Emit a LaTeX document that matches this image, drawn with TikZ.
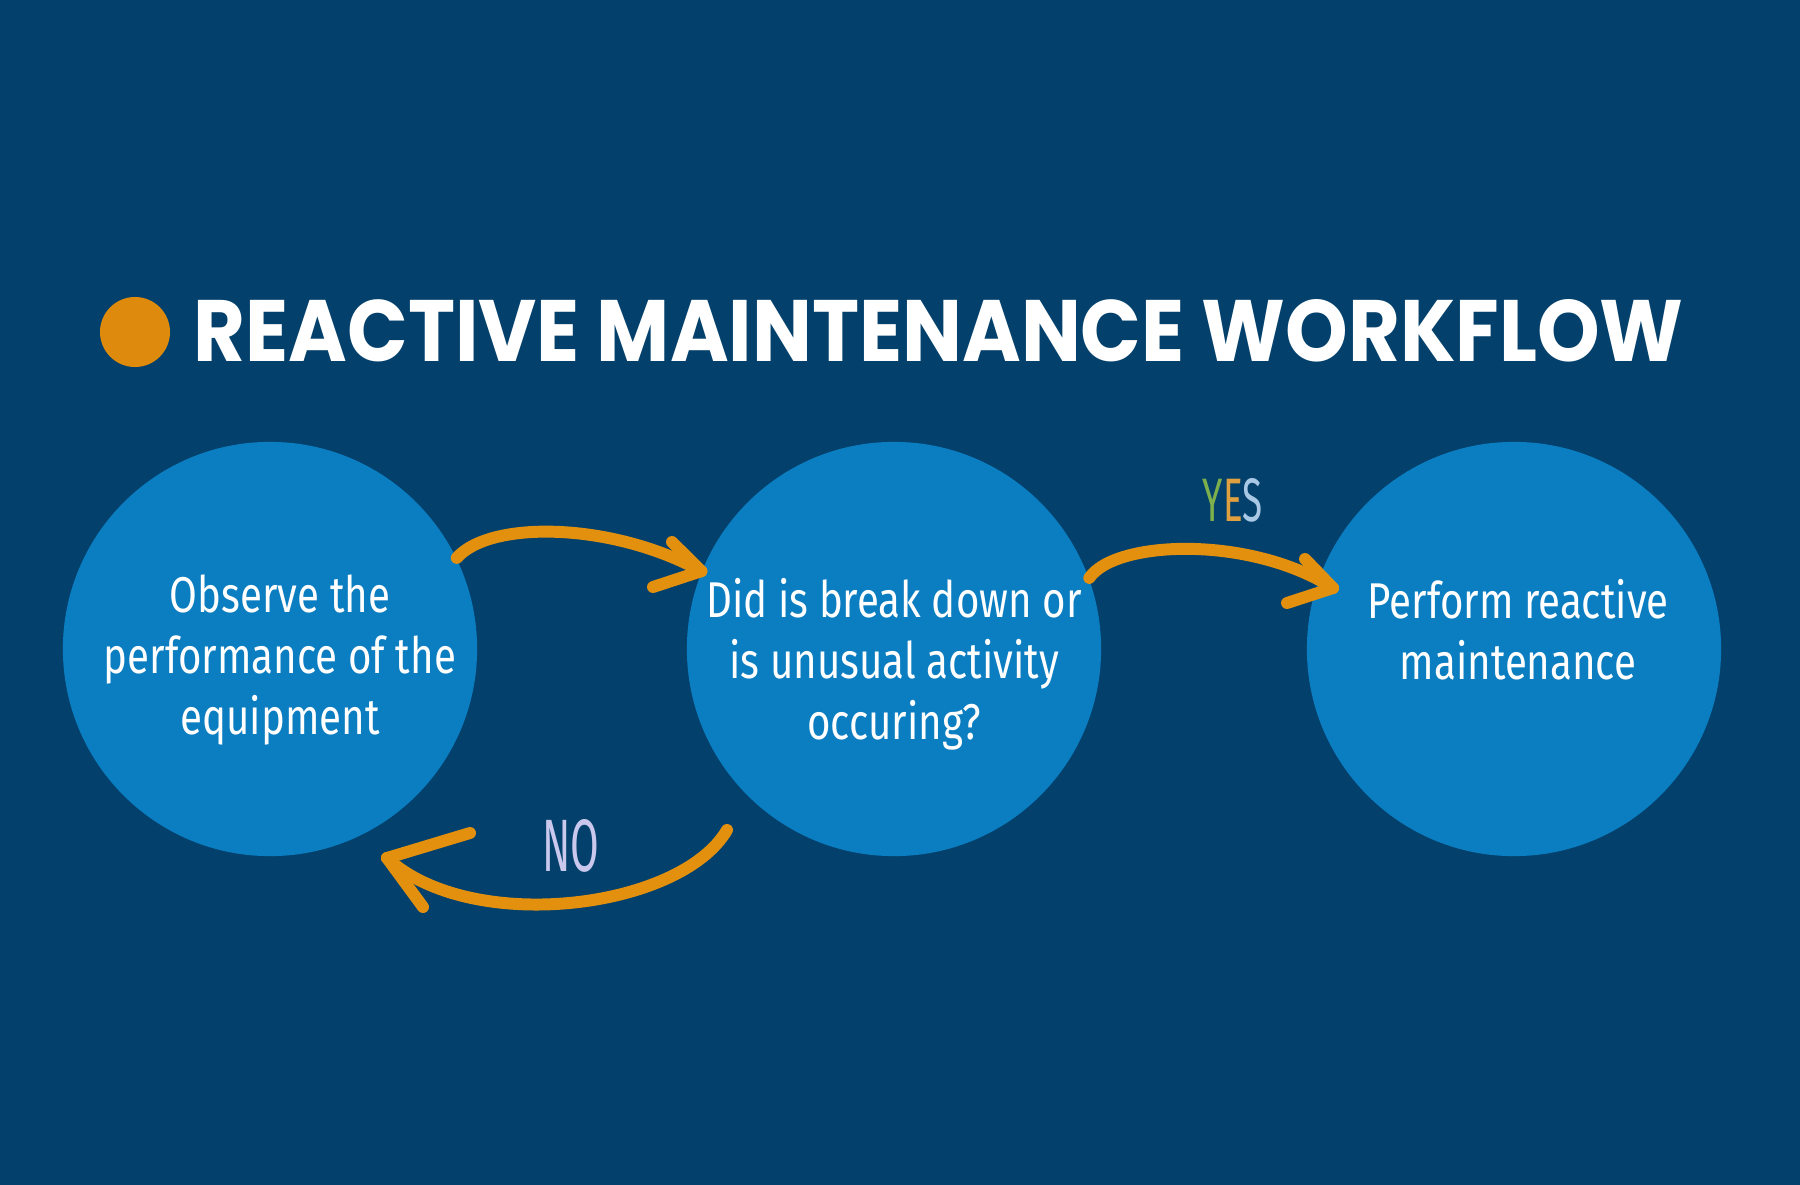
\documentclass[tikz,border=0pt]{standalone}
\usepackage{fontspec}
\setmainfont{Fira Sans}
\newfontfamily\condfont[FakeStretch=0.8]{Fira Sans}
\newfontfamily\titlefont{Poppins}
\usetikzlibrary{calc}
\definecolor{bgnavy}{HTML}{03416C}
\definecolor{circblue}{HTML}{0B7DC1}
\definecolor{arrorange}{HTML}{E3900F}
\definecolor{dotorange}{HTML}{DE8A0C}
\definecolor{yesgreen}{HTML}{7DB04C}
\definecolor{yesorange}{HTML}{E0A040}
\definecolor{yesblue}{HTML}{A8C8E6}
\definecolor{nolav}{HTML}{CBC8EE}
\tikzset{
  stepcircle/.style={circle, fill=circblue, draw=none, minimum size=4.14cm, inner sep=0pt},
  circtext/.style={text=white, align=center, inner sep=0pt, font=\condfont\fontsize{14.3}{17.4}\selectfont},
  arrline/.style={draw=arrorange, line width=3.4pt, line cap=round, line join=round},
  barbline/.style={draw=arrorange, line width=3.4pt, line cap=round}
}
\begin{document}
\begin{tikzpicture}[x=0.01cm,y=-0.01cm]
\fill[bgnavy] (0,0) rectangle (1800,1185);
\useasboundingbox (0,0) rectangle (1800,1185);

% title
\node[circle, fill=dotorange, minimum size=0.70cm, inner sep=0pt] (dot) at (135,332) {};
\node[anchor=south west, inner sep=0pt, text=white] (title) at (193,363)
  {\resizebox{14.89cm}{0.62cm}{\titlefont\bfseries REACTIVE MAINTENANCE WORKFLOW}};

% circles
\node[stepcircle] (c1) at (270,649) {};
\node[stepcircle] (c2) at (894,649) {};
\node[stepcircle] (c3) at (1514,649) {};

\node[circtext] (t1) at (280,660) {Observe the\\performance of the\\equipment};
\node[circtext] (t2) at (894,664) {Did is break down or\\is unusual activity\\occuring?};
\node[circtext] (t3) at (1518,630) {Perform reactive\\maintenance};

% arrow 1
\coordinate (a1s) at (c1.26);
\coordinate (a1t) at (c2.158);
\coordinate (a1u) at (672,542);
\coordinate (a1l) at (653,587);
\draw[arrline] (a1s) .. controls (490,520) and (612,522) .. (a1t);
\draw[barbline] (a1t) -- (a1u);
\draw[barbline] (a1t) -- (a1l);

% arrow 2 (yes)
\coordinate (a2s) at (c2.20);
\coordinate (a2t) at (1333,588);
\coordinate (a2u) at (1305,559);
\coordinate (a2l) at (1287,603);
\draw[arrline] (a2s) .. controls (1115,540) and (1250,535) .. (a2t);
\draw[barbline] (a2t) -- (a2u);
\draw[barbline] (a2t) -- (a2l);
\node[inner sep=0pt] (yes) at (1233,500)
  {\resizebox{0.60cm}{0.43cm}{\condfont\textcolor{yesgreen}{Y}\textcolor{yesorange}{E}\textcolor{yesblue}{S}}};

% arrow 3 (no)
\coordinate (a3s) at (727,830);
\coordinate (a3t) at (387,858);
\coordinate (a3u) at (470,833);
\coordinate (a3l) at (423,907);
\draw[arrline] (a3s) .. controls (680,910) and (470,935) .. (a3t);
\draw[barbline] (a3t) -- (a3u);
\draw[barbline] (a3t) -- (a3l);
\node[inner sep=0pt] (no) at (571,846)
  {\resizebox{0.57cm}{0.52cm}{\condfont\textcolor{nolav}{NO}}};
\end{tikzpicture}
\end{document}
